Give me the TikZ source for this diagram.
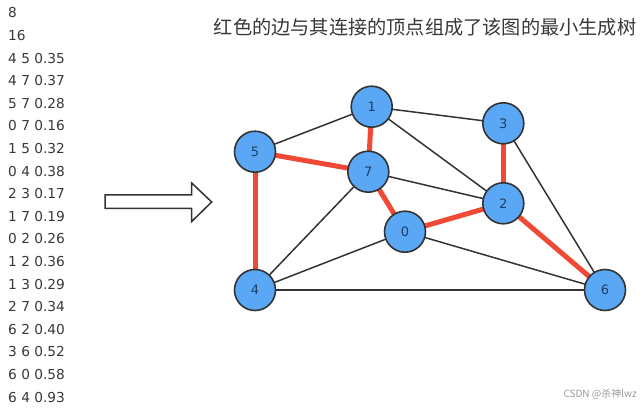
\documentclass[tikz,border=0pt]{standalone}
\usepackage{fontspec}
\usetikzlibrary{backgrounds}
\setmainfont{DejaVu Sans}
\newfontfamily\cjk{Noto Sans CJK SC}
\definecolor{nodeblue}{HTML}{5AA8F5}
\definecolor{edgered}{HTML}{F04A36}
\definecolor{edgegray}{HTML}{333333}
\definecolor{labelblue}{HTML}{1D3E66}
\begin{document}
\begin{tikzpicture}[x=1pt,y=-1pt,
  vtx/.style={circle,draw=edgegray,line width=1.6pt,fill=nodeblue,minimum size=41pt,inner sep=0pt,text=labelblue,font=\fontsize{13}{15}\selectfont},
  plain/.style={draw=edgegray,line width=1.5pt},
  mst/.style={draw=edgered,line width=5pt},
  listtxt/.style={anchor=west,inner sep=0pt,text=black!78,font=\fontsize{13.7}{16}\selectfont}]
\useasboundingbox (0,0) rectangle (644,411);
% data list
\foreach \t [count=\i from 0] in {8,16,4 5 0.35,4 7 0.37,5 7 0.28,0 7 0.16,1 5 0.32,0 4 0.38,2 3 0.17,1 7 0.19,0 2 0.26,1 2 0.36,1 3 0.29,2 7 0.34,6 2 0.40,3 6 0.52,6 0 0.58,6 4 0.93}
  \node[listtxt] (l\i) at (8,{13+22.6*\i}) {\t};
% title
\node[inner sep=0pt,text=black!78,font=\cjk\fontsize{19.2}{21}\selectfont] (title) at (425,27) {红色的边与其连接的顶点组成了该图的最小生成树};
% hollow arrow
\draw[edgegray,line width=1.5pt,line join=miter] (105,195) -- (191.7,195) -- (191.7,183) -- (211.7,202) -- (191.7,221.5) -- (191.7,208.5) -- (105,208.5) -- cycle;
% vertices
\node[vtx] (v1) at (371.7,106.7) {1};
\node[vtx] (v3) at (503.3,123.3) {3};
\node[vtx] (v5) at (255,151.7) {5};
\node[vtx] (v7) at (368.3,171.7) {7};
\node[vtx] (v2) at (503.3,203.3) {2};
\node[vtx] (v0) at (405,231.7) {0};
\node[vtx] (v4) at (255,290) {4};
\node[vtx] (v6) at (605,290) {6};
% edges
\begin{scope}[on background layer]
\path[plain] (v4.center) -- (v7.center);
\path[plain] (v1.center) -- (v5.center);
\path[plain] (v0.center) -- (v4.center);
\path[plain] (v1.center) -- (v2.center);
\path[plain] (v1.center) -- (v3.center);
\path[plain] (v2.center) -- (v7.center);
\path[plain] (v3.center) -- (v6.center);
\path[plain] (v6.center) -- (v0.center);
\path[plain] (v6.center) -- (v4.center);
\path[mst] (v4.center) -- (v5.center);
\path[mst] (v5.center) -- (v7.center);
\path[mst] (v0.center) -- (v7.center);
\path[mst] (v2.center) -- (v3.center);
\path[mst] (v1.center) -- (v7.center);
\path[mst] (v0.center) -- (v2.center);
\path[mst] (v6.center) -- (v2.center);
\end{scope}
% watermark
\node[inner sep=0pt,anchor=east,text=black!40,font=\cjk\fontsize{10}{12}\selectfont] (wm) at (637,394) {CSDN @杀神lwz};
\end{tikzpicture}
\end{document}
